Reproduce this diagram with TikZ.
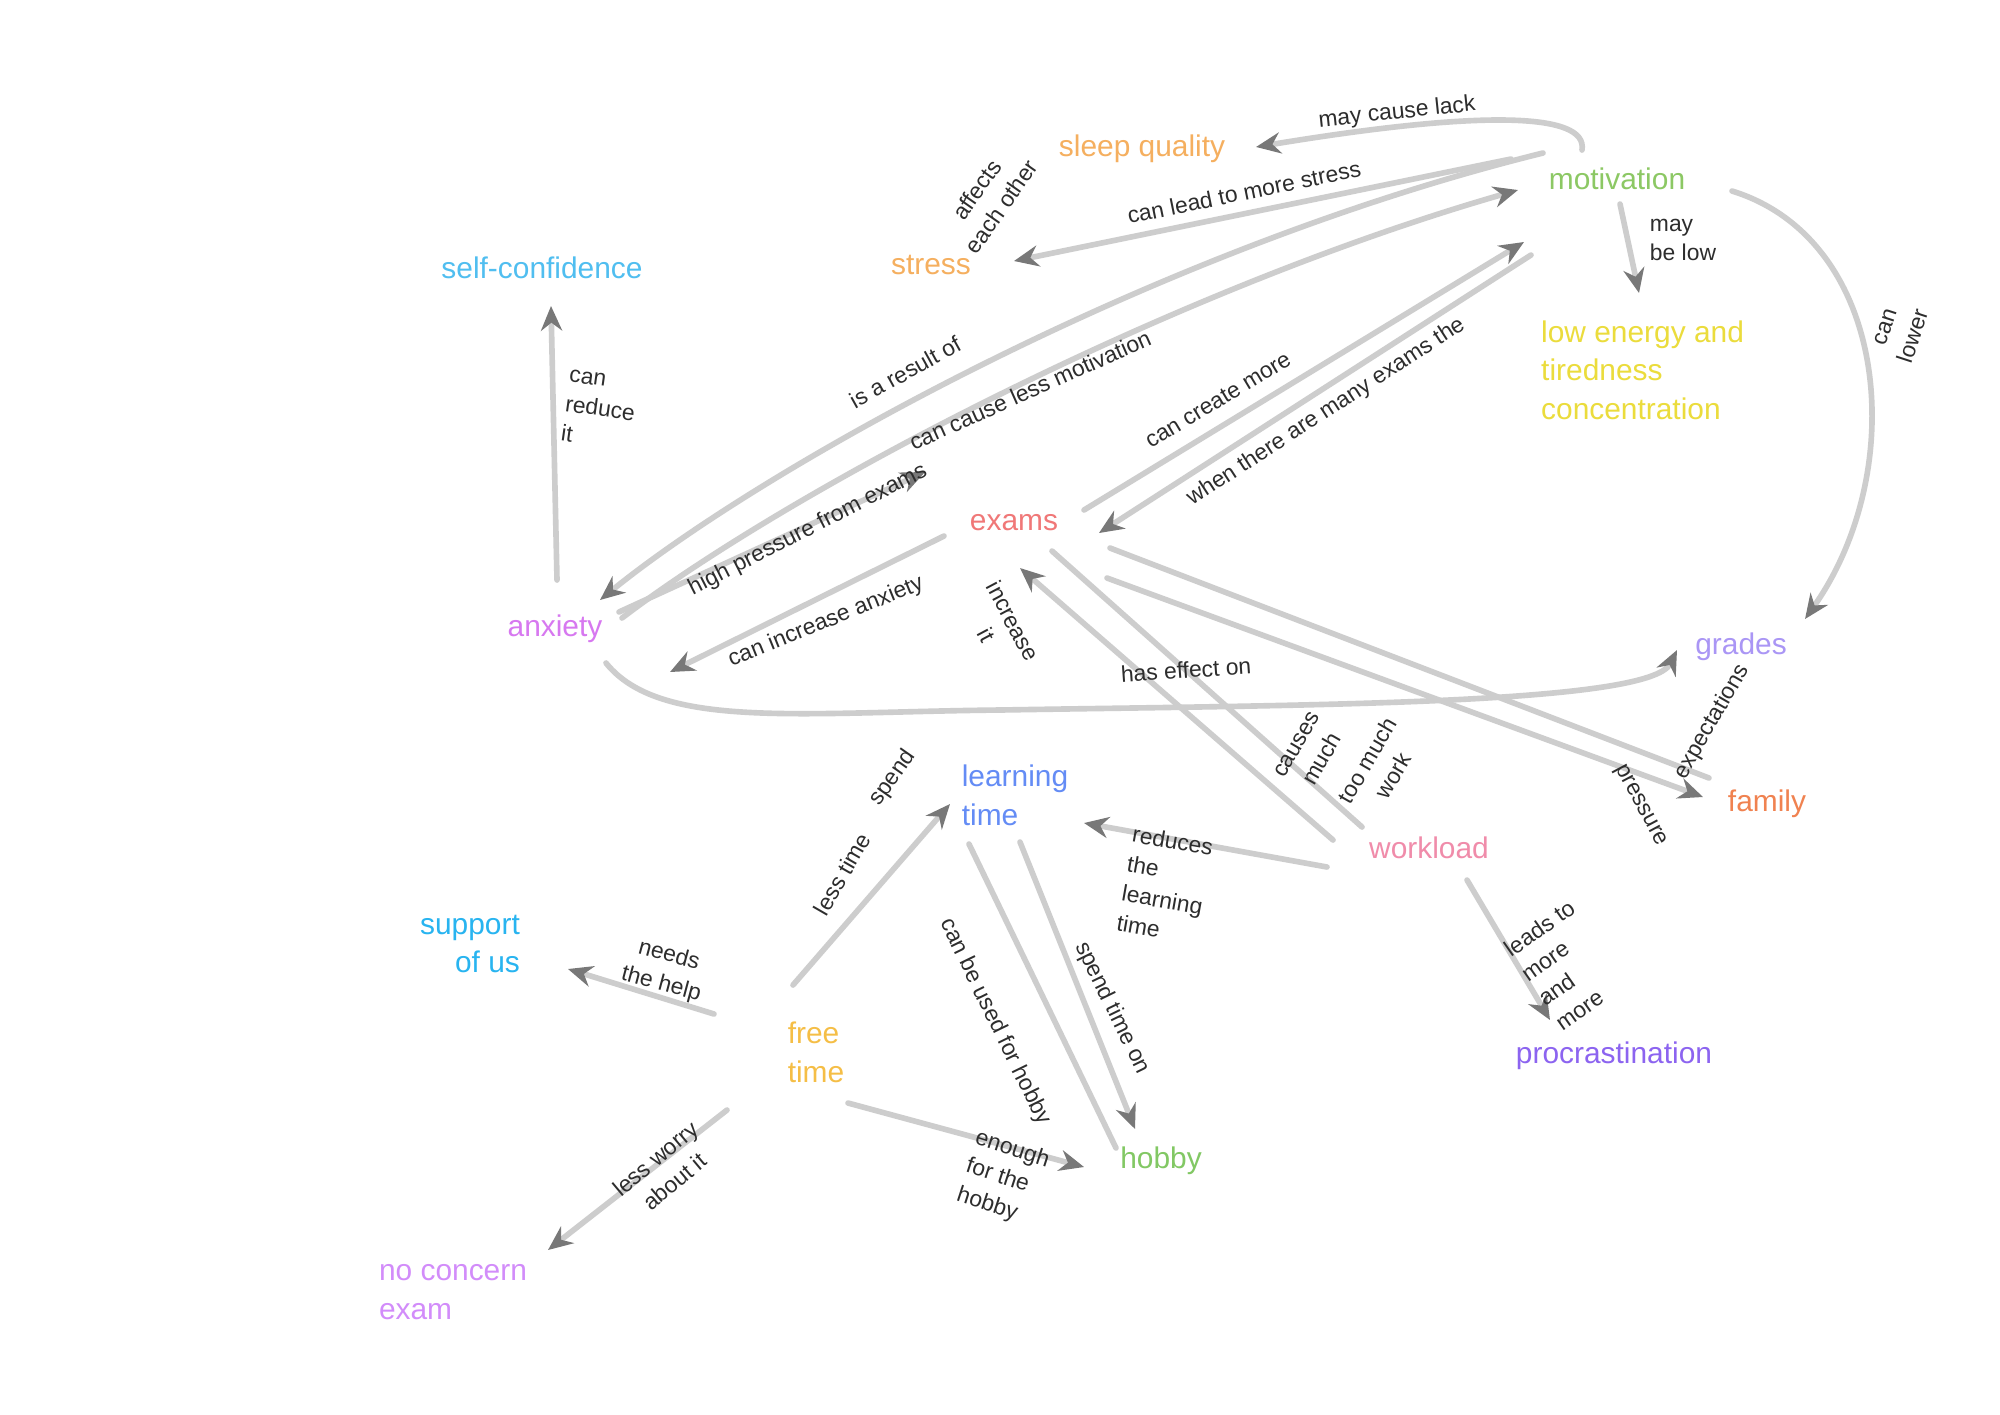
\documentclass[tikz,border=0pt]{standalone}
\usepackage{fontspec}
\setmainfont{Liberation Sans}
\usetikzlibrary{arrows.meta}
\definecolor{edgegray}{RGB}{205,205,205}
\definecolor{tipgray}{RGB}{120,120,120}
\definecolor{lblgray}{RGB}{45,45,45}
\definecolor{cOrange}{RGB}{245,175,95}
\definecolor{cGreen}{RGB}{140,200,100}
\definecolor{cYellow}{RGB}{235,220,60}
\definecolor{cCyan}{RGB}{80,190,240}
\definecolor{cMagenta}{RGB}{215,120,240}
\definecolor{cRed}{RGB}{240,120,120}
\definecolor{cLavender}{RGB}{170,150,245}
\definecolor{cOrRed}{RGB}{240,130,80}
\definecolor{cBlue}{RGB}{100,140,245}
\definecolor{cPink}{RGB}{240,140,170}
\definecolor{cPurple}{RGB}{140,100,240}
\definecolor{cCyanB}{RGB}{40,180,240}
\definecolor{cGold}{RGB}{245,190,70}
\definecolor{cGreenB}{RGB}{130,200,100}
\definecolor{cViolet}{RGB}{210,140,250}
\begin{document}
\begin{tikzpicture}[x=0.01cm,y=-0.01cm,
  concept/.style={font=\fontsize{8.5}{11}\selectfont, inner sep=1pt, align=center},
  link/.style={draw=edgegray, line width=1.6pt, line cap=round},
  tip/.style={-{Stealth[length=7pt,width=6pt,color=tipgray]}},
  rtip/.style={{Stealth[length=7pt,width=6pt,color=tipgray]}-},
  lbl/.style={font=\fontsize{6.5}{8.5}\selectfont, text=lblgray, inner sep=1pt, align=center}]
\useasboundingbox[fill=white] (0,0) rectangle (2000,1414);

% concept nodes
\node[concept, text=cOrange] (sleep) at (1142,149) {sleep quality};
\node[concept, text=cOrange] (stress) at (931,265) {stress};
\node[concept, text=cGreen] (motiv) at (1617,179) {motivation};
\node[concept, text=cYellow, anchor=west, align=left] (energy) at (1537,370) {low energy and\\tiredness\\concentration};
\node[concept, text=cCyan] (conf) at (542,268) {self-confidence};
\node[concept, text=cMagenta] (anx) at (555,629) {anxiety};
\node[concept, text=cRed] (exams) at (1014,523) {exams};
\node[concept, text=cLavender] (grades) at (1741,647) {grades};
\node[concept, text=cOrRed] (family) at (1767,804) {family};
\node[concept, text=cBlue, align=left] (learn) at (1015,795) {learning\\time};
\node[concept, text=cPink] (work) at (1429,848) {workload};
\node[concept, text=cPurple] (procr) at (1614,1056) {procrastination};
\node[concept, text=cCyanB, align=right] (support) at (470,944) {support\\of us};
\node[concept, text=cGold, align=left] (free) at (816,1052) {free\\time};
\node[concept, text=cGreenB] (hobby) at (1161,1161) {hobby};
\node[concept, text=cViolet, align=left] (nocon) at (453,1292) {no concern\\exam};

% connector end points
\coordinate (m1) at (1582,150);  \coordinate (s1) at (1256,147);
\coordinate (m2) at (1511,159);  \coordinate (s2) at (1014,261);
\coordinate (a1) at (600,600);   \coordinate (g1) at (1543,153);
\coordinate (a2) at (622,618);   \coordinate (g2) at (1518,190);
\coordinate (a3) at (619,612);   \coordinate (x3) at (925,472);
\coordinate (a4) at (670,672);   \coordinate (x4) at (944,536);
\coordinate (x5) at (1084,510);  \coordinate (g5) at (1524,242);
\coordinate (x6) at (1099,533);  \coordinate (g6) at (1531,255);
\coordinate (g7) at (1620,204);  \coordinate (e7) at (1639,293);
\coordinate (g8) at (1732,191);  \coordinate (r8) at (1805,619);
\coordinate (c9) at (551,306);   \coordinate (a9) at (557,580);
\coordinate (a10) at (606,663);  \coordinate (r10) at (1677,650);
\coordinate (x11) at (1110,548); \coordinate (f11) at (1709,778);
\coordinate (x12) at (1107,578); \coordinate (f12) at (1703,797);
\coordinate (x13) at (1052,551); \coordinate (w13) at (1362,827);
\coordinate (x14) at (1020,568); \coordinate (w14) at (1333,840);
\coordinate (w15) at (1327,867); \coordinate (l15) at (1084,823);
\coordinate (l16) at (950,804);  \coordinate (f16) at (793,985);
\coordinate (l17) at (969,844);  \coordinate (h17) at (1116,1148);
\coordinate (l18) at (1020,842); \coordinate (h18) at (1135,1129);
\coordinate (f19) at (714,1014); \coordinate (s19) at (568,969);
\coordinate (f20) at (727,1110); \coordinate (n20) at (548,1250);
\coordinate (f21) at (848,1103); \coordinate (h21) at (1084,1167);
\coordinate (w22) at (1467,880); \coordinate (p22) at (1550,1020);

% connectors
\draw[link, tip] (m1) .. controls (1588,112) and (1480,110) .. (s1);
\draw[link, tip] (m2) -- (s2);
\draw[link, rtip] (a1) .. controls (760,470) and (1150,250) .. (g1);
\draw[link, tip] (a2) .. controls (790,490) and (1170,290) .. (g2);
\draw[link, tip] (a3) -- (x3);
\draw[link, rtip] (a4) -- (x4);
\draw[link, tip] (x5) -- (g5);
\draw[link, rtip] (x6) -- (g6);
\draw[link, tip] (g7) -- (e7);
\draw[link, tip] (g8) .. controls (1890,240) and (1910,470) .. (r8);
\draw[link, rtip] (c9) -- (a9);
\draw[link, tip] (a10) .. controls (660,730) and (800,712) .. (1000,710)
      .. controls (1300,705) and (1650,705) .. (r10);
\draw[link] (x11) -- (f11);
\draw[link, tip] (x12) -- (f12);
\draw[link] (x13) -- (w13);
\draw[link, rtip] (x14) -- (w14);
\draw[link, tip] (w15) -- (l15);
\draw[link, rtip] (l16) -- (f16);
\draw[link] (l17) -- (h17);
\draw[link, tip] (l18) -- (h18);
\draw[link, tip] (f19) -- (s19);
\draw[link, tip] (f20) -- (n20);
\draw[link, tip] (f21) -- (h21);
\draw[link, tip] (w22) -- (p22);

% connector labels
\node[lbl, rotate=6] (t1) at (1397,113) {may cause lack};
\node[lbl, rotate=11.6] (t2) at (1244,192) {can lead to more stress};
\node[lbl, rotate=55] (t3) at (989,198) {affects\\each other};
\node[lbl, rotate=29] (t4) at (905,372) {is a result of};
\node[lbl, rotate=24] (t5) at (1030,390) {can cause less motivation};
\node[lbl, rotate=27] (t6) at (808,530) {high pressure from exams};
\node[lbl, rotate=22] (t7) at (826,622) {can increase anxiety};
\node[lbl, rotate=31] (t8) at (1218,400) {can create more};
\node[lbl, rotate=33] (t9) at (1326,412) {when there are many exams the};
\node[lbl, align=left] (t10) at (1683,240) {may\\be low};
\node[lbl, rotate=72] (t11) at (1900,332) {can\\lower};
\node[lbl, align=left, rotate=-8] (t12) at (600,410) {can\\reduce\\it};
\node[lbl, rotate=4] (t13) at (1186,670) {has effect on};
\node[lbl, rotate=60] (t14) at (1712,722) {expectations};
\node[lbl, rotate=-62] (t15) at (1640,806) {pressure};
\node[lbl, rotate=-62] (t16) at (1000,628) {increase\\it};
\node[lbl, rotate=60] (t17) at (1310,752) {causes\\much};
\node[lbl, rotate=60] (t18) at (1380,768) {too much\\work};
\node[lbl, rotate=-10, align=left] (t19) at (1165,885) {reduces\\the\\learning\\time};
\node[lbl, rotate=55] (t20) at (893,778) {spend};
\node[lbl, rotate=60] (t21) at (842,874) {less time};
\node[lbl, rotate=-64] (t22) at (995,1022) {can be used for hobby};
\node[lbl, rotate=-64] (t23) at (1112,1008) {spend time on};
\node[lbl, rotate=-15] (t24) at (665,970) {needs\\the help};
\node[lbl, rotate=40] (t25) at (665,1170) {less worry\\about it};
\node[lbl, rotate=-18, align=left] (t26) at (1003,1178) {enough\\for the\\hobby};
\node[lbl, rotate=35, align=left] (t27) at (1565,965) {leads to\\more\\and\\more};
\end{tikzpicture}
\end{document}
